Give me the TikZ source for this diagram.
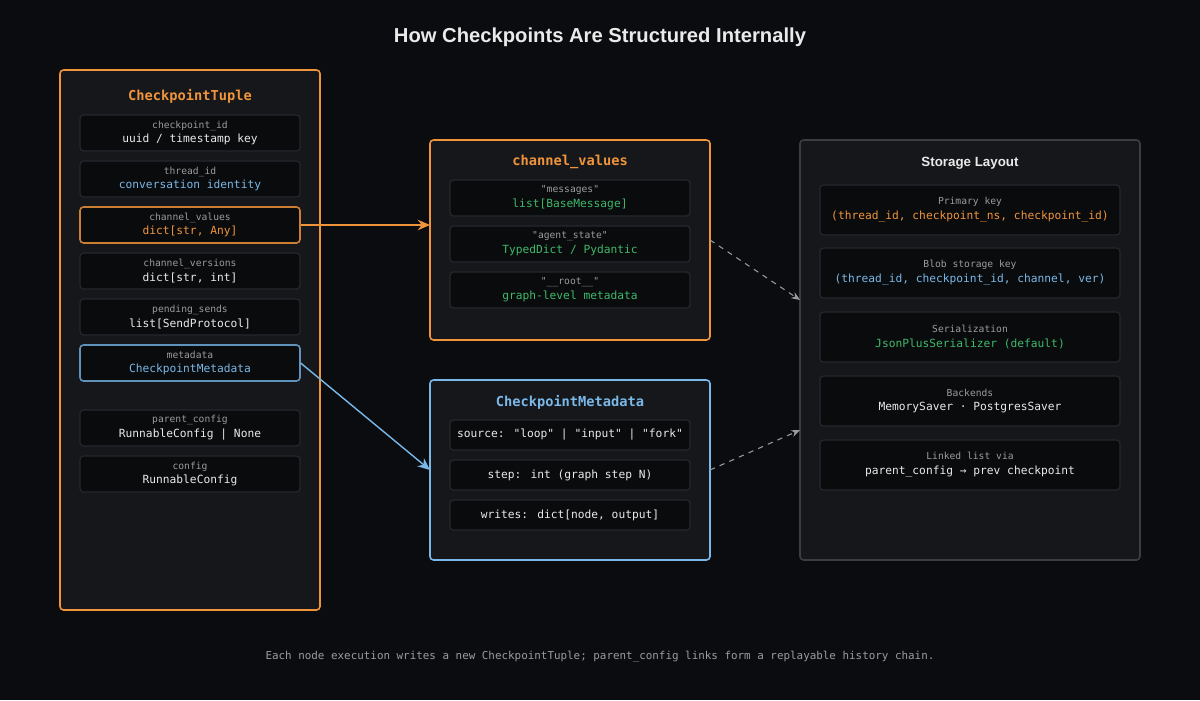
\documentclass[tikz,border=0pt]{standalone}
\usepackage{fontspec}
\setmainfont{Liberation Sans}
\newfontfamily\monofont{DejaVu Sans Mono}
\usetikzlibrary{arrows.meta}
\definecolor{bgc}{HTML}{0A0C0F}
\definecolor{panelc}{HTML}{15171B}
\definecolor{rowc}{HTML}{0A0B0D}
\definecolor{rowline}{HTML}{24272C}
\definecolor{orng}{HTML}{F0943C}
\definecolor{blu}{HTML}{79B8E8}
\definecolor{grn}{HTML}{3FB96A}
\definecolor{lbl}{HTML}{9A9C9F}
\definecolor{wht}{HTML}{EAEAEA}
\definecolor{gry}{HTML}{3A3D42}
\tikzset{
  panel/.style={draw=#1, line width=0.9pt, fill=panelc, rounded corners=2pt},
  row/.style={draw=rowline, line width=0.7pt, fill=rowc, rounded corners=2pt,
    inner sep=0pt, align=center, font=\monofont\fontsize{6.4}{9.5}\selectfont},
  ptitle/.style={font=\monofont\bfseries\fontsize{7.8}{10}\selectfont, text=#1},
  flow/.style={-{Stealth[length=7pt,width=6pt]}, line width=0.8pt},
  dashflow/.style={-{Stealth[length=5pt,width=4pt]}, draw=lbl, dashed, line width=0.6pt}
}
% row: name, x1, y1, x2, y2, label, value colour, value
\newcommand{\fieldrow}[8]{%
  \node[row, minimum width={(#4-#2)*0.02cm}, minimum height={(#5-#3)*0.02cm}]
    (#1) at ({(#2+#4)/2},{(#3+#5)/2})
    {{\color{lbl}\fontsize{5.5}{7}\selectfont #6}\\[-1pt]{\color{#7}#8}};}
\newcommand{\onerow}[7]{%
  \node[row, minimum width={(#4-#2)*0.02cm}, minimum height={(#5-#3)*0.02cm}, text=#6]
    (#1) at ({(#2+#4)/2},{(#3+#5)/2}) {#7};}
\begin{document}
\begin{tikzpicture}[x=0.02cm, y=-0.02cm]
  \fill[bgc] (0,0) rectangle (1200,700);
  \useasboundingbox (0,0) rectangle (1200,700);
  \node[font=\bfseries\fontsize{11.5}{14}\selectfont, text=wht] (title) at (600,37) {How Checkpoints Are Structured Internally};

  % CheckpointTuple
  \draw[panel=orng] (60,70) rectangle (320,610);
  \node[ptitle=orng] (tupletitle) at (190,96) {CheckpointTuple};
  \fieldrow{cid}{80}{115}{300}{151}{checkpoint\_id}{wht}{uuid / timestamp key}
  \fieldrow{tid}{80}{161}{300}{197}{thread\_id}{blu}{conversation identity}
  \fieldrow{cvals}{80}{207}{300}{243}{channel\_values}{orng}{dict[str, Any]}
  \draw[orng!85!black, line width=0.9pt, rounded corners=2pt] (80,207) rectangle (300,243);
  \fieldrow{cvers}{80}{253}{300}{289}{channel\_versions}{wht}{dict[str, int]}
  \fieldrow{psends}{80}{299}{300}{335}{pending\_sends}{wht}{list[SendProtocol]}
  \fieldrow{meta}{80}{345}{300}{381}{metadata}{blu}{CheckpointMetadata}
  \draw[blu!80!black, line width=0.9pt, rounded corners=2pt] (80,345) rectangle (300,381);
  \fieldrow{pconf}{80}{410}{300}{446}{parent\_config}{wht}{RunnableConfig | None}
  \fieldrow{conf}{80}{456}{300}{492}{config}{wht}{RunnableConfig}

  % channel_values
  \draw[panel=orng] (430,140) rectangle (710,340);
  \coordinate (cvin) at (430,225);
  \coordinate (cvout) at (710,240);
  \node[ptitle=orng] (cvtitle) at (570,162) {channel\_values};
  \fieldrow{msgs}{450}{180}{690}{216}{"messages"}{grn}{list[BaseMessage]}
  \fieldrow{astate}{450}{226}{690}{262}{"agent\_state"}{grn}{TypedDict / Pydantic}
  \fieldrow{root}{450}{272}{690}{308}{"\_\_root\_\_"}{grn}{graph-level metadata}

  % CheckpointMetadata
  \draw[panel=blu] (430,380) rectangle (710,560);
  \coordinate (cmin) at (430,470);
  \coordinate (cmout) at (710,470);
  \node[ptitle=blu] (cmtitle) at (570,402) {CheckpointMetadata};
  \onerow{src}{450}{420}{690}{450}{wht}{source: "loop" | "input" | "fork"}
  \onerow{step}{450}{460}{690}{490}{wht}{step: int (graph step N)}
  \onerow{writes}{450}{500}{690}{530}{wht}{writes: dict[node, output]}

  % Storage Layout
  \draw[panel=gry] (800,140) rectangle (1140,560);
  \coordinate (slin1) at (800,300);
  \coordinate (slin2) at (800,430);
  \node[font=\bfseries\fontsize{7.6}{10}\selectfont, text=wht] (sltitle) at (970,163) {Storage Layout};
  \fieldrow{pkey}{820}{185}{1120}{235}{Primary key}{orng}{(thread\_id, checkpoint\_ns, checkpoint\_id)}
  \fieldrow{bkey}{820}{248}{1120}{298}{Blob storage key}{blu}{(thread\_id, checkpoint\_id, channel, ver)}
  \fieldrow{ser}{820}{312}{1120}{362}{Serialization}{grn}{JsonPlusSerializer (default)}
  \fieldrow{back}{820}{376}{1120}{426}{Backends}{wht}{MemorySaver · PostgresSaver}
  \fieldrow{llist}{820}{440}{1120}{490}{Linked list via}{wht}{parent\_config → prev checkpoint}

  % connectors
  \draw[flow, orng] (cvals.east) -- (cvin);
  \draw[flow, blu] (meta.east) -- (cmin);
  \draw[dashflow] (cvout) -- (slin1);
  \draw[dashflow] (cmout) -- (slin2);

  \node[font=\monofont\fontsize{6.2}{8}\selectfont, text=lbl] (footer) at (600,657)
    {Each node execution writes a new CheckpointTuple; parent\_config links form a replayable history chain.};
\end{tikzpicture}
\end{document}
